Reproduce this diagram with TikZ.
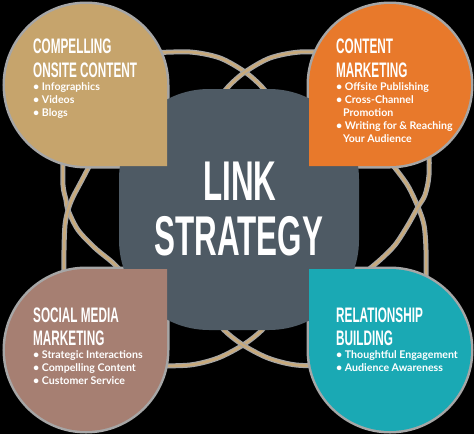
\documentclass[tikz,border=0pt]{standalone}
\usepackage{fontspec}
\newfontfamily\headfont[FakeStretch=0.56]{Liberation Sans}
\newfontfamily\bulletfont{Lato}
\definecolor{tanc}{HTML}{C6A46C}
\definecolor{orangec}{HTML}{E8792B}
\definecolor{mauvec}{HTML}{A67F72}
\definecolor{tealc}{HTML}{1AA9B4}
\definecolor{hexc}{HTML}{4E5A64}
\definecolor{linec}{HTML}{C8AA7C}
\definecolor{haloc}{HTML}{A6A6A6}
\begin{document}
\begin{tikzpicture}[x=1pt,y=-1pt,
  orbit/.style={draw=linec,line width=2.6pt,preaction={draw=haloc,line width=5pt}},
  petalhalo/.style={draw=haloc,line width=5pt},
  head/.style={anchor=base west,inner sep=0pt,text=white,font=\headfont\bfseries\fontsize{21}{24}\selectfont},
  bul/.style={anchor=base west,inner sep=0pt,text=white,font=\bulletfont\bfseries\fontsize{10.6}{13}\selectfont},
  titletext/.style={anchor=base,inner sep=0pt,text=white,font=\headfont\bfseries\fontsize{56}{60}\selectfont}]
\useasboundingbox (0,0) rectangle (474,434);
\fill[black] (0,0) rectangle (474,434);
% orbit lines
\draw[orbit] plot[smooth] coordinates {(150,53) (190,52) (220,58) (245,72) (262,87) (280,110)};
\draw[orbit] plot[smooth] coordinates {(340,53) (300,52) (270,58) (245,72) (228,87) (210,110)};
\draw[orbit] plot[smooth] coordinates {(150,366) (190,365) (218,358) (243,345) (262,330) (280,308)};
\draw[orbit] plot[smooth] coordinates {(336,366) (296,365) (268,358) (243,345) (224,330) (206,308)};
\draw[orbit] plot[smooth] coordinates {(63,150) (63,185) (66,200) (68,210) (78,230) (95,248) (112,262) (125,275)};
\draw[orbit] plot[smooth] coordinates {(95,155) (82,180) (73,197) (68,210) (65,225) (64,250) (64,280)};
\draw[orbit] plot[smooth] coordinates {(380,150) (395,168) (408,186) (418,207) (424,225) (426,250) (426,290)};
\draw[orbit] plot[smooth] coordinates {(429,140) (429,175) (425,195) (418,207) (408,225) (395,245) (380,260) (362,275)};
% petal paths
\def\petalTL{(167,166) -- (167,85) arc[start angle=0,end angle=-270,radius=81] -- cycle}
\def\petalTR{(309,166) -- (390,166) arc[start angle=90,end angle=-180,radius=81] -- cycle}
\def\petalBL{(167,269) -- (167,350) arc[start angle=0,end angle=270,radius=81] -- cycle}
\def\petalBR{(309,269) -- (309,350) arc[start angle=180,end angle=-90,radius=81] -- cycle}
\draw[petalhalo] \petalTL;
\draw[petalhalo] \petalTR;
\draw[petalhalo] \petalBL;
\draw[petalhalo] \petalBR;
% centre
\fill[hexc,rounded corners=90pt] (119,89) rectangle (359,330);
\fill[tanc] \petalTL;
\fill[orangec] \petalTR;
\fill[mauvec] \petalBL;
\fill[tealc] \petalBR;
% title
\node (t1) [titletext] at (240,200) {LINK};
\node (t2) [titletext] at (239,255) {STRATEGY};
% TL
\node (tlh1) [head] at (33,53) {COMPELLING};
\node (tlh2) [head] at (33,77) {ONSITE CONTENT};
\node (tlb1) [bul] at (33,90) {• Infographics};
\node (tlb2) [bul] at (33,103) {• Videos};
\node (tlb3) [bul] at (33,116) {• Blogs};
% TR
\node (trh1) [head] at (336,53) {CONTENT};
\node (trh2) [head] at (336,77) {MARKETING};
\node (trb1) [bul] at (336,90) {• Offsite Publishing};
\node (trb2) [bul] at (336,103) {• Cross-Channel};
\node (trb3) [bul] at (343,116) {Promotion};
\node (trb4) [bul] at (336,129) {• Writing for \& Reaching};
\node (trb5) [bul] at (343,142) {Your Audience};
% BL
\node (blh1) [head] at (33,322) {SOCIAL MEDIA};
\node (blh2) [head] at (33,345) {MARKETING};
\node (blb1) [bul] at (33,358) {• Strategic Interactions};
\node (blb2) [bul] at (33,371) {• Compelling Content};
\node (blb3) [bul] at (33,384) {• Customer Service};
% BR
\node (brh1) [head] at (336,322) {RELATIONSHIP};
\node (brh2) [head] at (336,345) {BUILDING};
\node (brb1) [bul] at (336,358) {• Thoughtful Engagement};
\node (brb2) [bul] at (336,371) {• Audience Awareness};
\end{tikzpicture}
\end{document}
